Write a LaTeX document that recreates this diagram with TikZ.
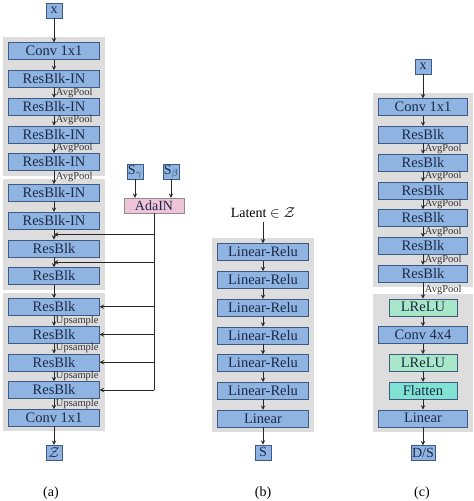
\documentclass[tikz,border=0pt]{standalone}
\usepackage{fontspec}
\setmainfont{Liberation Serif}
\usepackage{tikz}
\usetikzlibrary{arrows, positioning, fit, backgrounds, calc}
\definecolor{boxblue}{RGB}{143,180,226}
\definecolor{boxline}{RGB}{62,90,130}
\definecolor{panelgray}{RGB}{221,221,221}
\definecolor{mint}{RGB}{168,232,200}
\definecolor{aqua}{RGB}{128,226,210}
\definecolor{pinkbox}{RGB}{240,196,216}
\definecolor{inkblue}{RGB}{28,42,72}
\tikzstyle{block} = [rectangle, minimum width=91pt, minimum height=17pt, inner sep=0pt, text centered, draw=boxline, fill=boxblue, text=inkblue, font=\fontsize{14.5}{16}\selectfont]
\tikzstyle{thinblock} = [block, minimum width=68pt, fill=mint]
\tikzstyle{io} = [rectangle, minimum width=16pt, minimum height=15pt, inner sep=1pt, draw=boxline, fill=boxblue, text=inkblue, font=\fontsize{14}{15}\selectfont]
\tikzstyle{panel} = [fill=panelgray, inner sep=5pt]
\tikzstyle{arrow} = [line width=0.9pt, black!85, ->, >=stealth]
\tikzstyle{note} = [anchor=west, inner sep=1.5pt, text=black!80, font=\fontsize{10.5}{11}\selectfont]
\tikzstyle{caption} = [font=\fontsize{14}{16}\selectfont]

\begin{document}
\begin{tikzpicture}[x=1pt, y=-1pt, node distance=27.75pt]
	\useasboundingbox (0,0) rectangle (474,501);
	% (a) generator
	\node (xa) [io] at (54,10.5) {x};
	\node (conva) [block] at (54,51) {Conv 1x1};
	\node (ra1) [block, below of=conva] {ResBlk-IN};
	\node (ra2) [block, below of=ra1] {ResBlk-IN};
	\node (ra3) [block, below of=ra2] {ResBlk-IN};
	\node (ra4) [block, below of=ra3] {ResBlk-IN};
	\node (ra5) [block, below of=ra4, yshift=-3pt] {ResBlk-IN};
	\node (ra6) [block, below of=ra5] {ResBlk-IN};
	\node (rb1) [block, below of=ra6] {ResBlk};
	\node (rb2) [block, below of=rb1] {ResBlk};
	\node (rb3) [block, below of=rb2, yshift=-3pt] {ResBlk};
	\node (rb4) [block, below of=rb3] {ResBlk};
	\node (rb5) [block, below of=rb4] {ResBlk};
	\node (rb6) [block, below of=rb5] {ResBlk};
	\node (convb) [block, below of=rb6] {Conv 1x1};
	\node (za) [io, below of=convb, yshift=-7pt] {$\mathcal{Z}$};
	\node (sg) [io] at (135,171.5) {S$_\gamma$};
	\node (sb) [io] at (171,171.5) {S$_\beta$};
	\node (ada) [io, fill=pinkbox, draw=black!45, minimum width=60pt] at (154,205.5) {AdaIN};
	\node (capa) [caption] at (51,493) {(a)};
	\draw [arrow] (xa) -- (conva);
	\draw [arrow] (conva) -- (ra1);
	\draw [arrow] (ra1) -- node[note] {AvgPool} (ra2);
	\draw [arrow] (ra2) -- node[note] {AvgPool} (ra3);
	\draw [arrow] (ra3) -- node[note] {AvgPool} (ra4);
	\draw [arrow] (ra4) -- node[note] {AvgPool} (ra5);
	\draw [arrow] (ra5) -- (ra6);
	\draw [arrow] (ra6) -- (rb1);
	\draw [arrow] (rb1) -- (rb2);
	\draw [arrow] (rb2) -- (rb3);
	\draw [arrow] (rb3) -- node[note] {Upsample} (rb4);
	\draw [arrow] (rb4) -- node[note] {Upsample} (rb5);
	\draw [arrow] (rb5) -- node[note] {Upsample} (rb6);
	\draw [arrow] (rb6) -- node[note] {Upsample} (convb);
	\draw [arrow] (convb) -- (za);
	\draw [arrow] (sg) -- (sg |- ada.north);
	\draw [arrow] (sb) -- (sb |- ada.north);
	% AdaIN feed
	\coordinate (g1) at ($(ra6.south)!0.5!(rb1.north)$);
	\coordinate (g2) at ($(rb1.south)!0.5!(rb2.north)$);
	\draw [line width=0.9pt, black!85] (ada.south) -- (ada.south |- rb6.east);
	\draw [arrow] (ada.south |- g1) -- (g1);
	\draw [arrow] (ada.south |- g2) -- (g2);
	\draw [arrow] (ada.south |- rb3.east) -- (rb3.east);
	\draw [arrow] (ada.south |- rb4.east) -- (rb4.east);
	\draw [arrow] (ada.south |- rb5.east) -- (rb5.east);
	\draw [arrow] (ada.south |- rb6.east) -- (rb6.east);
	% (b) mapping
	\node (lat) [caption] at (263,213) {Latent $\in\mathcal{Z}$};
	\node (lb1) [block] at (263,252) {Linear-Relu};
	\node (lb2) [block, below of=lb1] {Linear-Relu};
	\node (lb3) [block, below of=lb2] {Linear-Relu};
	\node (lb4) [block, below of=lb3] {Linear-Relu};
	\node (lb5) [block, below of=lb4] {Linear-Relu};
	\node (lb6) [block, below of=lb5] {Linear-Relu};
	\node (linb) [block, below of=lb6] {Linear};
	\node (sout) [io, below of=linb, yshift=-6pt] {S};
	\node (capb) [caption] at (263,493) {(b)};
	\draw [arrow] (lat) -- (lb1);
	\draw [arrow] (lb1) -- (lb2);
	\draw [arrow] (lb2) -- (lb3);
	\draw [arrow] (lb3) -- (lb4);
	\draw [arrow] (lb4) -- (lb5);
	\draw [arrow] (lb5) -- (lb6);
	\draw [arrow] (lb6) -- (linb);
	\draw [arrow] (linb) -- (sout);
	% (c) discriminator
	\node (xc) [io] at (423,66.5) {x};
	\node (cc1) [block, minimum width=89pt] at (423,107) {Conv 1x1};
	\node (rc1) [block, minimum width=89pt, below of=cc1] {ResBlk};
	\node (rc2) [block, minimum width=89pt, below of=rc1] {ResBlk};
	\node (rc3) [block, minimum width=89pt, below of=rc2] {ResBlk};
	\node (rc4) [block, minimum width=89pt, below of=rc3] {ResBlk};
	\node (rc5) [block, minimum width=89pt, below of=rc4] {ResBlk};
	\node (rc6) [block, minimum width=89pt, below of=rc5] {ResBlk};
	\node (lr1) [thinblock, below of=rc6, yshift=-6pt] {LReLU};
	\node (cc4) [block, minimum width=89pt, below of=lr1] {Conv 4x4};
	\node (lr2) [thinblock, below of=cc4] {LReLU};
	\node (flat) [thinblock, fill=aqua, below of=lr2] {Flatten};
	\node (linc) [block, minimum width=89pt, below of=flat] {Linear};
	\node (ds) [io, minimum width=23pt, below of=linc, yshift=-7pt] {D/S};
	\node (capc) [caption] at (422,493) {(c)};
	\draw [arrow] (xc) -- (cc1);
	\draw [arrow] (cc1) -- (rc1);
	\draw [arrow] (rc1) -- node[note] {AvgPool} (rc2);
	\draw [arrow] (rc2) -- node[note] {AvgPool} (rc3);
	\draw [arrow] (rc3) -- node[note] {AvgPool} (rc4);
	\draw [arrow] (rc4) -- node[note] {AvgPool} (rc5);
	\draw [arrow] (rc5) -- node[note] {AvgPool} (rc6);
	\draw [arrow] (rc6) -- node[note] {AvgPool} (lr1);
	\draw [arrow] (lr1) -- (cc4);
	\draw [arrow] (cc4) -- (lr2);
	\draw [arrow] (lr2) -- (flat);
	\draw [arrow] (flat) -- (linc);
	\draw [arrow] (linc) -- (ds);
	% grey panels
	\begin{scope}[on background layer]
		\node [panel, fit=(conva)(ra4)] {};
		\node [panel, fit=(ra5)(rb2)] {};
		\node [panel, fit=(rb3)(convb)] {};
		\node [panel, fit=(lb1)(linb)] {};
		\node [panel, fit=(cc1)(rc6)] {};
		\node [panel, fit=(lr1)(cc4)(linc)] {};
	\end{scope}
\end{tikzpicture}
\end{document}
